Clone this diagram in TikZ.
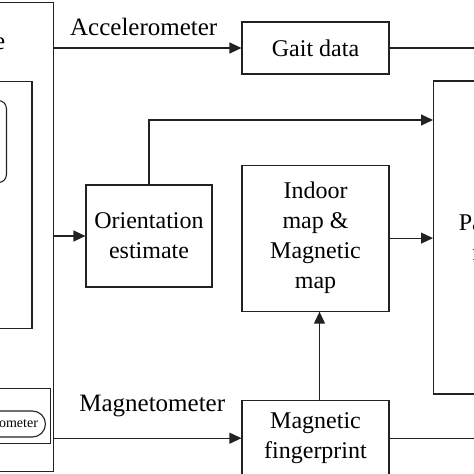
\documentclass[tikz,border=0pt]{standalone}
\usepackage{fontspec}
\setmainfont{Liberation Serif}
\usepackage{tikz}
\usetikzlibrary{arrows.meta, positioning}
\definecolor{linecolor}{RGB}{34, 34, 34}
\tikzstyle{block} = [rectangle, draw=linecolor, line width=1.1pt, align=center, inner sep=0pt,
                     font=\fontsize{24}{30}\selectfont]
\tikzstyle{panel} = [rectangle, draw=linecolor, line width=1.1pt, inner sep=0pt]
\tikzstyle{sensor} = [font=\fontsize{25}{30}\selectfont, inner sep=0pt]
\tikzstyle{arrow} = [-{Triangle[length=12pt, width=11pt]}, line width=1.1pt, draw=linecolor]
\tikzstyle{wire} = [line width=1.1pt, draw=linecolor]

\begin{document}
\begin{tikzpicture}[x=1pt, y=-1pt]
    \useasboundingbox (0,0) rectangle (474,474);
    \clip (0,0) rectangle (474,474);
    % phone side, cut off at the left edge
    \node[panel, anchor=north east, minimum width=150pt, minimum height=469pt] (phone) at (54,2) {};
    \node[sensor, anchor=base east] (phonename) at (5.5,49) {Smartphone};
    \node[panel, anchor=north east, minimum width=120pt, minimum height=247pt] (sensors) at (32.5,81) {};
    \node[panel, rounded corners=8pt, anchor=north east, minimum width=80pt, minimum height=82pt] (chip) at (7,100) {};
    \node[panel, anchor=north east, minimum width=120pt, minimum height=55pt] (magbox) at (51,388) {};
    \node[panel, rounded corners=13pt, anchor=east, minimum height=26pt, inner xsep=7.5pt,
          font=\fontsize{14}{16}\selectfont] (magchip) at (46,424) {Magnetometer};

    % processing blocks
    \node[block, minimum width=147pt, minimum height=52pt] (gait) at (315.5,48) {Gait data};
    \node[block, minimum width=126pt, minimum height=102pt] (orient) at (149,236) {Orientation\\estimate};
    \node[block, minimum width=147pt, minimum height=146pt, below=90pt of gait] (indoor) {Indoor\\map \&\\Magnetic\\map};
    \node[block, minimum width=147pt, minimum height=76pt, below=88pt of indoor] (fprint) {Magnetic\\fingerprint};
    \node[block, minimum width=124pt, minimum height=313pt, anchor=west] (filter) at (433,237.5) {Particle\\filter};

    % connectors
    \draw[arrow] (phone.east |- gait) -- (gait.west)
        node[sensor, midway, above=12pt, xshift=-4pt] (acclabel) {Accelerometer};
    \draw[arrow] (phone.east |- orient) -- (orient.west);
    \draw[arrow] (phone.east |- fprint) -- (fprint.west)
        node[sensor, midway, above=20.7pt, xshift=4.5pt] (maglabel) {Magnetometer};
    \coordinate (gaitout) at (490,48);
    \draw[wire] (gait.east) -- (gaitout);
    \draw[arrow] (orient.north) |- ([yshift=117.5pt]filter.west);
    \draw[arrow] (indoor.east) -- (indoor.east -| filter.west);
    \draw[arrow] ([xshift=4pt]fprint.north) -- ([xshift=4pt]indoor.south);
    \coordinate (fprintout) at (490,436);
    \draw[wire] (fprint.east) -- (fprint.east -| fprintout);
\end{tikzpicture}
\end{document}
